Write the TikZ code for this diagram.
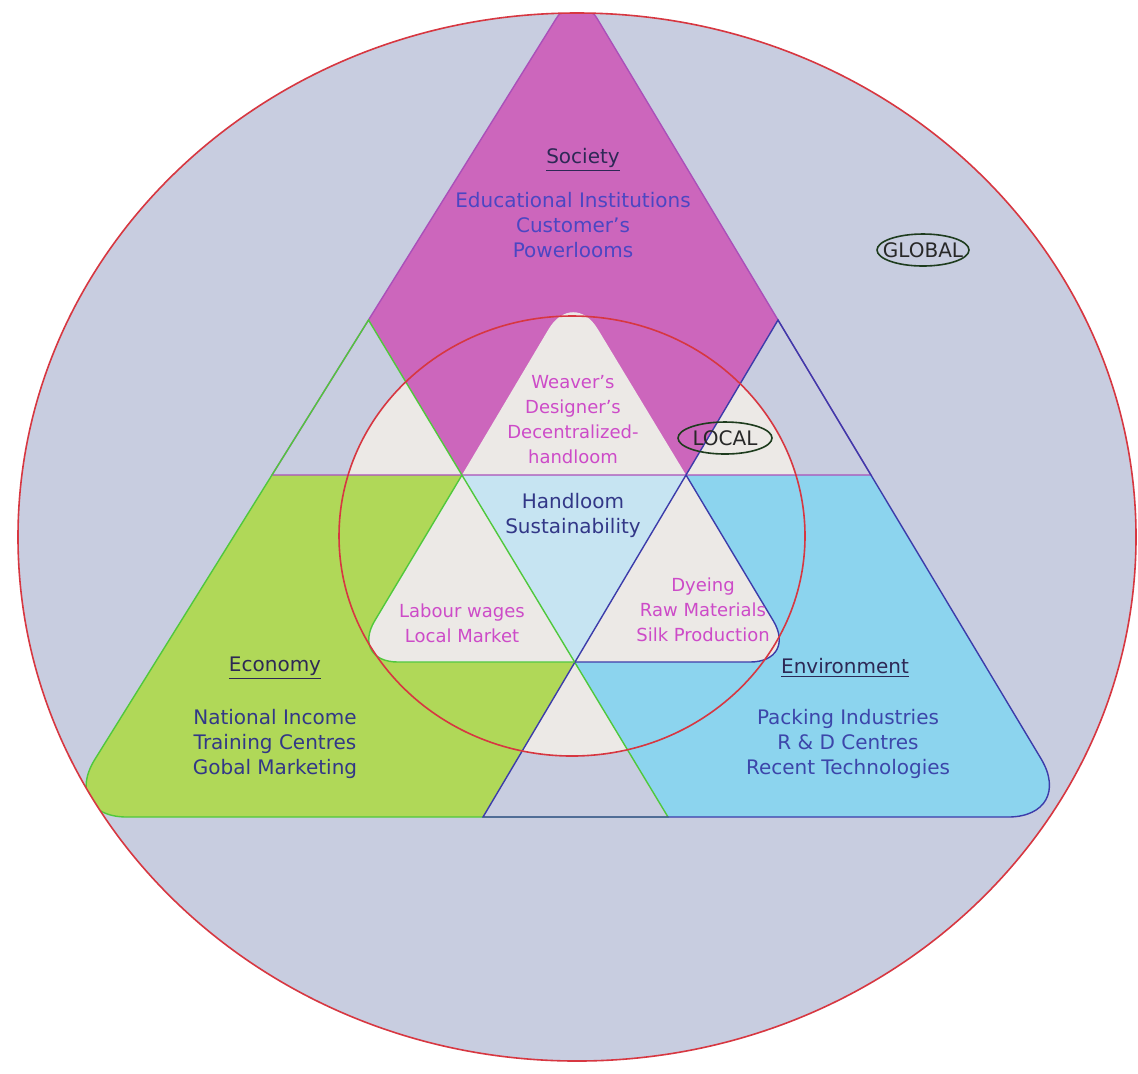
\documentclass[tikz,border=0pt]{standalone}
\usepackage{fontspec}
\setmainfont{DejaVu Sans}
\usetikzlibrary{shapes.geometric}
\definecolor{globalbg}{RGB}{200,205,224}
\definecolor{localbg}{RGB}{236,233,230}
\definecolor{socfill}{RGB}{204,102,188}
\definecolor{ecofill}{RGB}{176,216,88}
\definecolor{envfill}{RGB}{140,212,238}
\definecolor{centerfill}{RGB}{198,228,242}
\definecolor{circred}{RGB}{215,55,65}
\definecolor{ecoline}{RGB}{80,200,60}
\definecolor{envline}{RGB}{60,60,170}
\definecolor{socline}{RGB}{170,80,185}
\definecolor{txtviolet}{RGB}{75,70,195}
\definecolor{txtdark}{RGB}{50,55,135}
\definecolor{txtblue}{RGB}{60,70,170}
\definecolor{txtmag}{RGB}{205,75,200}
\definecolor{titledark}{RGB}{45,40,85}
\definecolor{lbldark}{RGB}{40,40,40}
\definecolor{lblell}{RGB}{30,60,30}
% big triangles (one rounded corner each)
\newcommand\pSoc{(SL) -- (socT2) .. controls (socC2) and (socC1) .. (socT1) -- (SR) -- cycle}
\newcommand\pEco{(EA) -- (ecoT1) .. controls (ecoC1) and (ecoC2) .. (ecoT2) -- (ER) -- cycle}
\newcommand\pEnv{(VA) -- (envT1) .. controls (envC1) and (envC2) .. (envT2) -- (VL) -- cycle}
% small inner triangles
\newcommand\pTopTri{(CL) -- (topT2) .. controls (topC2) and (topC1) .. (topT1) -- (CR) -- cycle}
\newcommand\pLabTri{(CL) -- (labT1) .. controls (labC1) and (labC2) .. (labT2) -- (CB) -- cycle}
\newcommand\pDyeTri{(CR) -- (dyeT1) .. controls (dyeC1) and (dyeC2) .. (dyeT2) -- (CB) -- cycle}
\tikzset{
  txt/.style={align=center, inner sep=0pt, font=\fontsize{10}{12.5}\selectfont},
  btxt/.style={txt, text=txtmag, font=\fontsize{9}{12.5}\selectfont},
  ttl/.style={inner sep=0pt, text=titledark, font=\fontsize{10}{12.5}\selectfont},
  lbl/.style={inner sep=0pt, text=lbldark, font=\fontsize{10}{12}\selectfont},
  lblring/.style={draw=lblell, line width=0.8pt},
  socstroke/.style={draw=socline, line width=0.7pt},
  ecostroke/.style={draw=ecoline, line width=0.7pt},
  envstroke/.style={draw=envline, line width=0.7pt},
  redring/.style={draw=circred, line width=0.8pt}
}
\begin{document}
\begin{tikzpicture}[x=0.5pt,y=-0.5pt]
\useasboundingbox (0,0) rectangle (1138,1073);
\fill[white] (0,0) rectangle (1138,1073);
% ---- points (pixel grid, y downwards)
% Society
\coordinate (SL) at (272,475);
\coordinate (SR) at (871,475);
\coordinate (socT1) at (597.6,19.3);
\coordinate (socT2) at (555.9,19.0);
\coordinate (socC1) at (586.3,0.4);
\coordinate (socC2) at (567.5,0.3);
% Economy
\coordinate (EA) at (368.5,320);
\coordinate (ER) at (668,817);
\coordinate (ecoT1) at (94.9,759.3);
\coordinate (ecoT2) at (127,817);
\coordinate (ecoC1) at (75.2,791.0);
\coordinate (ecoC2) at (89.6,817);
% Environment
\coordinate (VA) at (778,320);
\coordinate (VL) at (483,817);
\coordinate (envT1) at (1041.0,758.7);
\coordinate (envT2) at (1008,817);
\coordinate (envC1) at (1060.3,790.8);
\coordinate (envC2) at (1045.4,817);
% centre
\coordinate (CL) at (462,475);
\coordinate (CR) at (686,475);
\coordinate (CB) at (575,662);
% top inner triangle
\coordinate (topT1) at (597.8,329.1);
\coordinate (topT2) at (548.5,329.3);
\coordinate (topC1) at (584.2,306.5);
\coordinate (topC2) at (562.0,306.6);
% labour inner triangle
\coordinate (labT1) at (374.7,620.8);
\coordinate (labT2) at (398,662);
\coordinate (labC1) at (361.1,643.5);
\coordinate (labC2) at (371.6,662);
% dyeing inner triangle
\coordinate (dyeT1) at (773.3,620.8);
\coordinate (dyeT2) at (750,662);
\coordinate (dyeC1) at (786.9,643.5);
\coordinate (dyeC2) at (776.4,662);
% ---- everything inside the global circle
\begin{scope}
\clip (577,537) ellipse [x radius=559, y radius=524];
\fill[globalbg] (577,537) ellipse [x radius=559, y radius=524];
\fill[localbg] (572,536) ellipse [x radius=233, y radius=220];
% coloured regions (only where a single triangle is present)
\begin{scope}
  \clip \pSoc;
  \fill[socfill, even odd rule] (-100,-100) rectangle (1300,1200) \pEco \pEnv;
\end{scope}
\begin{scope}
  \clip \pEco;
  \fill[ecofill, even odd rule] (-100,-100) rectangle (1300,1200) \pSoc \pEnv;
\end{scope}
\begin{scope}
  \clip \pEnv;
  \fill[envfill, even odd rule] (-100,-100) rectangle (1300,1200) \pSoc \pEco;
\end{scope}
% inner triangles
\fill[localbg] \pTopTri;
\fill[localbg] \pLabTri;
\fill[localbg] \pDyeTri;
\fill[centerfill] (CL) -- (CR) -- (CB) -- cycle;
% outlines
\draw[socstroke] \pSoc;
\draw[ecostroke] \pEco;
\draw[envstroke] \pEnv;
\draw[ecostroke] (CL) -- (labT1) .. controls (labC1) and (labC2) .. (labT2) -- (CB);
\draw[envstroke] (CR) -- (dyeT1) .. controls (dyeC1) and (dyeC2) .. (dyeT2) -- (CB);
\end{scope}
% ---- red circles
\draw[redring] (577,537) ellipse [x radius=559, y radius=524];
\draw[redring] (572,536) ellipse [x radius=233, y radius=220];
% ---- texts
\node[ttl] (soc) at (583,160) {\underline{Society}};
\node[txt, text=txtviolet] (soclist) at (573,225) {Educational Institutions\\Customer's\\Powerlooms};
\node[lbl] (global) at (923,250) {GLOBAL};
\draw[lblring] (global.center) ellipse [x radius=46, y radius=16];
\node[btxt] (weaver) at (573,420) {Weaver's\\Designer's\\Decentralized-\\handloom};
\node[lbl] (local) at (725,438) {LOCAL};
\draw[lblring] (local.center) ellipse [x radius=47, y radius=16];
\node[txt, text=txtdark] (hand) at (573,515) {Handloom\\Sustainability};
\node[btxt] (labour) at (462,623) {Labour wages\\Local Market};
\node[btxt] (dye) at (703,610) {Dyeing\\Raw Materials\\Silk Production};
\node[ttl] (eco) at (275,668) {\underline{Economy}};
\node[txt, text=txtdark] (ecolist) at (275,744) {National Income\\Training Centres\\Gobal Marketing};
\node[ttl] (env) at (845,668) {\underline{Environment}};
\node[txt, text=txtblue] (envlist) at (848,744) {Packing Industries\\R \& D Centres\\Recent Technologies};
\end{tikzpicture}
\end{document}
